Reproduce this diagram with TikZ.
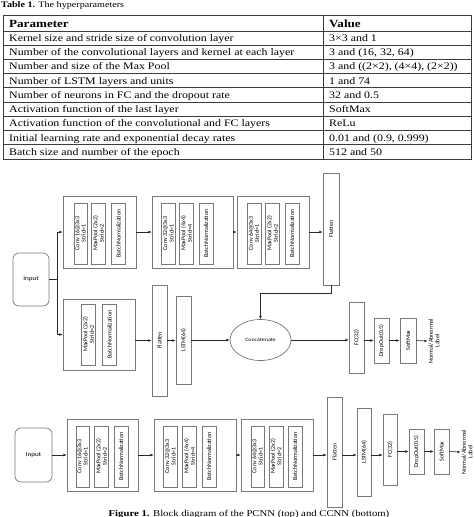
\documentclass[tikz,border=0pt]{standalone}
\usepackage{fontspec}
\setmainfont{Liberation Serif}[FakeStretch=1.19]
\newfontfamily\dg{Carlito}
\newfontfamily\dgw{Carlito}[FakeStretch=1.19]
\usetikzlibrary{arrows.meta,shapes.geometric}
\definecolor{bx}{RGB}{120,120,120}
\definecolor{ln}{RGB}{40,40,40}
\definecolor{tl}{RGB}{60,60,60}
\begin{document}
\begin{tikzpicture}[x=1pt,y=-1pt,
  tall/.style={draw=bx, line width=0.7pt, rotate=90, inner sep=0pt, align=center,
    font=\dg\fontsize{6}{6.4}\selectfont},
  sub/.style={tall, minimum width=61pt, minimum height=14pt},
  blk/.style={draw=bx, line width=0.7pt, inner sep=0pt, minimum height=72pt},
  inbox/.style={draw=bx, line width=0.7pt, rounded corners=6pt, inner sep=0pt,
    font=\dgw\fontsize{6}{7}\selectfont},
  arr/.style={draw=ln, line width=0.6pt, -{Latex[length=3.2pt,width=2.8pt]}},
  lab/.style={rotate=90, align=center, inner sep=1pt, font=\dg\fontsize{6}{6.4}\selectfont},
  tline/.style={draw=tl, line width=0.8pt},
  cell/.style={anchor=base west, inner sep=0pt, font=\fontsize{10}{12}\selectfont},
  hcell/.style={anchor=base west, inner sep=0pt, font=\fontsize{11}{13}\selectfont\bfseries}]
\useasboundingbox (0,0) rectangle (474,517);

% ---------------- table ----------------
\node[anchor=base west, inner sep=0pt, font=\fontsize{8.5}{10}\selectfont] (ttl) at (1,7) {\textbf{Table 1.} The hyperparameters};
\draw[tline] (3,15) rectangle (471,159);
\draw[tline] (323,15) -- (323,159);
\draw[tline] (3,31) -- (471,31);
\foreach \k in {1,...,8} {\draw[tline] (3,{31+14.22*\k}) -- (471,{31+14.22*\k});}
\node[hcell] (hp) at (9,27.5) {Parameter};
\node[hcell] (hv) at (329,27.5) {Value};
\foreach \i/\p/\v in {
 1/{Kernel size and stride size of convolution layer}/{3×3 and 1},
 2/{Number of the convolutional layers and kernel at each layer}/{3 and (16, 32, 64)},
 3/{Number and size of the Max Pool}/{3 and ((2×2), (4×4), (2×2))},
 4/{Number of LSTM layers and units}/{1 and 74},
 5/{Number of neurons in FC and the dropout rate}/{32 and 0.5},
 6/{Activation function of the last layer}/{SoftMax},
 7/{Activation function of the convolutional and FC layers}/{ReLu},
 8/{Initial learning rate and exponential decay rates}/{0.01 and (0.9, 0.999)},
 9/{Batch size and number of the epoch}/{512 and 50}} {
  \node[cell] (p\i) at (9,{31+14.22*(\i-0.5)+3.4}) {\p};
  \node[cell] (v\i) at (329,{31+14.22*(\i-0.5)+3.4}) {\v};
}

% ---------------- PCNN (top) ----------------
\node[inbox, minimum width=36pt, minimum height=53pt] (inA) at (31,279.5) {Input};
\node[blk, minimum width=73pt] (B1) at (99.5,232) {};
\node[sub, minimum height=13pt] (s11) at (80.5,233.5) {Conv 16@3x3\\Strid=1};
\node[sub] (s12) at (98.5,233.5) {MaxPool (2x2)\\Strid=2};
\node[sub] (s13) at (118.5,233.5) {BatchNormalization};
\node[blk, minimum width=81pt] (B2) at (192.5,232) {};
\node[sub] (s21) at (168.5,233.5) {Conv 32@3x3\\Strid=1};
\node[sub] (s22) at (186.5,233.5) {MaxPool (4x4)\\Strid=4};
\node[sub] (s23) at (206,233.5) {BatchNormalization};
\node[blk, minimum width=72pt] (B3) at (273,232.5) {};
\node[sub] (s31) at (254,233.5) {Conv 64@3x3\\Strid=1};
\node[sub] (s32) at (272.5,233.5) {MaxPool (2x2)\\Strid=2};
\node[sub] (s33) at (292,233.5) {BatchNormalization};
\node[tall, minimum width=112pt, minimum height=16pt] (F1) at (331,229) {Flatten};

\node[blk, minimum width=72pt, minimum height=71pt] (B4) at (99,334.5) {};
\node[sub] (s41) at (88.5,334.5) {MaxPool (2x2)\\Strid=2};
\node[sub] (s42) at (109.5,334.5) {BatchNormalization};
\node[tall, minimum width=111pt, minimum height=15pt] (F2) at (159.5,340.5) {Flatten};
\node[tall, minimum width=88pt, minimum height=15pt] (L1) at (183.5,340) {LSTM(64)};
\node[ellipse, draw=bx, line width=0.7pt, minimum width=61pt, minimum height=41pt, inner sep=0pt,
  font=\dgw\fontsize{5}{6}\selectfont] (cat) at (260.5,340) {Concatenate};
\node[tall, minimum width=71pt, minimum height=15pt] (FC1) at (356.5,337.5) {FC(32)};
\node[tall, minimum width=45pt, minimum height=15pt] (D1) at (381.5,340.5) {DropOut(0.5)};
\node[tall, minimum width=45pt, minimum height=16pt] (S1) at (408,340.5) {SoftMax};
\node[lab] (lab1) at (434,341) {Normal/Abnormal\\Label};

\coordinate (split) at (57,279.5);
\draw[arr] (inA.east) -- (split) |- (B1.west);
\draw[arr] (split) |- (B4.west);
\draw[arr] (B1.east) -- (B2.west);
\draw[arr] (B2.east) -- (B2.east -| B3.west);
\draw[arr] (B3.east |- B2.east) -- (B2.east -| F1.north);
\draw[arr] (F1.west) -- ++(0,8) -| (cat.north);
\draw[arr] (B4.east |- F2.center) -- (F2.north);
\draw[arr] (F2.south) -- (F2.south -| L1.north);
\draw[arr] (L1.south) -- (L1.south -| cat.west);
\draw[arr] (cat.east) -- (cat.east -| FC1.north);
\draw[arr] (FC1.south |- D1.center) -- (D1.north);
\draw[arr] (D1.south) -- (S1.north);
\draw[arr] (S1.south) -- (lab1.north);

% ---------------- CCNN (bottom) ----------------
\node[inbox, minimum width=37pt, minimum height=54pt] (inB) at (33.5,455) {Input};
\node[blk, minimum width=71pt] (B5) at (102.5,455) {};
\node[sub, minimum height=13pt] (s51) at (82.5,456.5) {Conv 16@3x3\\Strid=1};
\node[sub] (s52) at (101.5,456.5) {MaxPool (2x2)\\Strid=2};
\node[sub] (s53) at (121,456.5) {BatchNormalization};
\node[blk, minimum width=82pt] (B6) at (195,455) {};
\node[sub] (s61) at (170.5,456.5) {Conv 32@3x3\\Strid=1};
\node[sub] (s62) at (189.5,456.5) {MaxPool (4x4)\\Strid=4};
\node[sub] (s63) at (209,456.5) {BatchNormalization};
\node[blk, minimum width=72pt] (B7) at (277,455) {};
\node[sub, minimum height=13pt] (s71) at (257.5,456.5) {Conv 64@3x3\\Strid=1};
\node[sub] (s72) at (276,456.5) {MaxPool (2x2)\\Strid=2};
\node[sub] (s73) at (295,456.5) {BatchNormalization};
\node[tall, minimum width=110pt, minimum height=15pt] (F3) at (334.5,452) {Flatten};
\node[tall, minimum width=88pt, minimum height=14pt] (L2) at (364,452) {LSTM(64)};
\node[tall, minimum width=71pt, minimum height=14pt] (FC2) at (390,449.5) {FC(32)};
\node[tall, minimum width=45pt, minimum height=15pt] (D2) at (416.5,451.5) {DropOut(0.5)};
\node[tall, minimum width=45pt, minimum height=15pt] (S2) at (441.5,451.5) {SoftMax};
\node[lab] (lab2) at (467,452) {Normal/Abnormal\\Label};

\draw[arr] (inB.east) -- (B5.west);
\draw[arr] (B5.east) -- (B6.west);
\draw[arr] (B6.east) -- (B7.west);
\draw[arr] (B7.east) -- (B7.east -| F3.north);
\draw[arr] (F3.south |- B7.east) -- (B7.east -| L2.north);
\draw[arr] (L2.south |- B7.east) -- (B7.east -| FC2.north);
\draw[arr] (FC2.south |- D2.center) -- (D2.north);
\draw[arr] (D2.south) -- (S2.north);
\draw[arr] (S2.south) -- (lab2.north);

% caption
\node[anchor=base, inner sep=0pt, font=\fontsize{9}{11}\selectfont] (cap) at (249,516) {\textbf{Figure 1.} Block diagram of the PCNN (top) and CCNN (bottom)};
\end{tikzpicture}
\end{document}
